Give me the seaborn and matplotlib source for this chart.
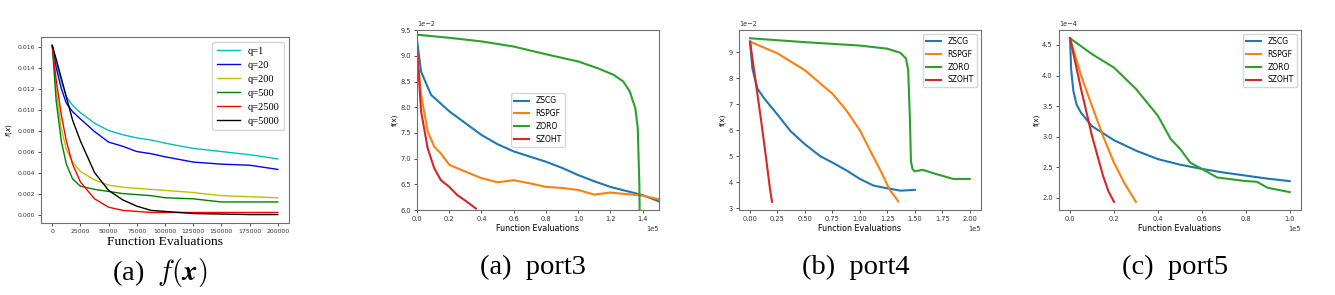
import matplotlib
matplotlib.use("Agg")
import matplotlib.pyplot as plt
import seaborn as sns
import numpy as np

plt.rcParams['axes.unicode_minus'] = True

###--- data : panel (a) f(x), different q
fe = [0, 3500, 8000, 12500, 18000, 25000, 37500, 50000, 62500, 75000,
      87500, 100000, 125000, 150000, 175000, 200000]
q_labels = ["q=1", "q=20", "q=200", "q=500", "q=2500", "q=5000"]
q_colors = ["c", "b", "y", "g", "r", "k"]
q1 = [0.0161, 0.0145, 0.0127, 0.0112, 0.0104, 0.0097, 0.0087, 0.0080, 0.0076, 0.0073,
      0.0071, 0.0068, 0.0063, 0.0060, 0.0057, 0.0053]
q20 = [0.0161, 0.0140, 0.0120, 0.0106, 0.0098, 0.0091, 0.0079, 0.0069, 0.0065, 0.0060,
       0.0058, 0.0055, 0.0050, 0.0048, 0.0047, 0.0043]
q200 = [0.0161, 0.0118, 0.0082, 0.0062, 0.0050, 0.0041, 0.0033, 0.0028, 0.0026, 0.0025,
        0.0024, 0.0023, 0.0021, 0.0018, 0.0017, 0.0016]
q500 = [0.0161, 0.0108, 0.0070, 0.0048, 0.0034, 0.0027, 0.0024, 0.0022, 0.0020, 0.0019,
        0.0018, 0.0016, 0.0015, 0.0012, 0.0012, 0.0012]
q2500 = [0.0161, 0.0128, 0.0095, 0.0070, 0.0048, 0.0031, 0.0015, 0.0007, 0.0004, 0.0003,
         0.0002, 0.0002, 0.0002, 0.0002, 0.0002, 0.0002]
q5000 = [0.0161, 0.0148, 0.0130, 0.0112, 0.0090, 0.0070, 0.0040, 0.0023, 0.0014, 0.0008,
         0.0004, 0.0003, 0.0001, 0.00005, 0.0, 0.0]

###--- data : port3 / port4 / port5  (x in 1e5, f in 1e-2 / 1e-4)
methods = ["ZSCG", "RSPGF", "ZORO", "SZOHT"]
m_colors = ["#1f77b4", "#ff7f0e", "#2ca02c", "#d62728"]

p3_zscg_x = [0, 0.025, 0.087, 0.2, 0.3, 0.4, 0.5, 0.6, 0.7, 0.8, 0.9, 1.0, 1.1, 1.2, 1.3, 1.4, 1.5]
p3_zscg_y = [9.30, 8.69, 8.24, 7.92, 7.69, 7.46, 7.28, 7.14, 7.04, 6.94, 6.82, 6.68, 6.56, 6.45, 6.37, 6.29, 6.17]
p3_rspgf_x = [0, 0.025, 0.066, 0.107, 0.148, 0.2, 0.29, 0.4, 0.5, 0.6, 0.7, 0.8, 0.9, 1.0, 1.1, 1.2, 1.3, 1.4, 1.5]
p3_rspgf_y = [9.10, 8.24, 7.53, 7.23, 7.10, 6.88, 6.76, 6.62, 6.54, 6.58, 6.52, 6.45, 6.43, 6.39, 6.30, 6.34, 6.31, 6.28, 6.21]
p3_zoro_x = [0, 0.2, 0.4, 0.6, 0.8, 1.0, 1.12, 1.22, 1.28, 1.32, 1.355, 1.37, 1.38, 1.385]
p3_zoro_y = [9.41, 9.35, 9.28, 9.18, 9.03, 8.89, 8.76, 8.63, 8.50, 8.31, 7.98, 7.60, 6.50, 5.00]
p3_szoht_x = [0, 0.025, 0.066, 0.107, 0.148, 0.2, 0.25, 0.31, 0.365]
p3_szoht_y = [9.15, 7.92, 7.20, 6.81, 6.58, 6.45, 6.29, 6.16, 6.03]

p4_zscg_x = [0, 0.021, 0.067, 0.127, 0.25, 0.37, 0.5, 0.64, 0.75, 0.885, 1.0, 1.127, 1.25, 1.37, 1.5]
p4_zscg_y = [9.40, 8.37, 7.60, 7.23, 6.60, 5.96, 5.46, 5.00, 4.76, 4.44, 4.13, 3.87, 3.77, 3.68, 3.71]
p4_rspgf_x = [0, 0.25, 0.5, 0.75, 0.87, 1.0, 1.12, 1.2, 1.27, 1.35]
p4_rspgf_y = [9.40, 8.95, 8.30, 7.40, 6.80, 6.00, 5.00, 4.35, 3.72, 3.27]
p4_zoro_x = [0, 0.5, 1.0, 1.25, 1.37, 1.42, 1.44, 1.455, 1.465, 1.48, 1.5, 1.57, 1.7, 1.85, 2.0]
p4_zoro_y = [9.53, 9.38, 9.25, 9.13, 8.97, 8.75, 8.30, 6.50, 4.80, 4.50, 4.42, 4.48, 4.31, 4.13, 4.13]
p4_szoht_x = [0, 0.05, 0.1, 0.15, 0.18, 0.2]
p4_szoht_y = [9.40, 7.90, 6.40, 4.80, 3.80, 3.25]

p5_zscg_x = [0, 0.005, 0.015, 0.03, 0.05, 0.1, 0.2, 0.3, 0.4, 0.5, 0.6, 0.7, 0.8, 0.9, 1.0]
p5_zscg_y = [4.61, 4.10, 3.75, 3.52, 3.39, 3.17, 2.94, 2.77, 2.63, 2.54, 2.47, 2.41, 2.36, 2.31, 2.27]
p5_rspgf_x = [0, 0.05, 0.1, 0.15, 0.2, 0.25, 0.3]
p5_rspgf_y = [4.61, 4.00, 3.50, 3.01, 2.57, 2.22, 1.93]
p5_zoro_x = [0, 0.1, 0.2, 0.3, 0.4, 0.458, 0.503, 0.548, 0.6, 0.67, 0.8, 0.85, 0.9, 1.0]
p5_zoro_y = [4.61, 4.35, 4.13, 3.78, 3.34, 2.96, 2.79, 2.57, 2.47, 2.33, 2.27, 2.26, 2.16, 2.09]
p5_szoht_x = [0, 0.05, 0.1, 0.15, 0.175, 0.2]
p5_szoht_y = [4.61, 3.78, 3.01, 2.36, 2.10, 1.93]

###--- figure
fig = plt.figure(figsize=(13.35, 2.95), dpi=100)
frame = "#707070"
tick_fs = 4.8


def style_axes(ax, fs):
    for s in ax.spines.values():
        s.set_color(frame)
        s.set_linewidth(0.8)
    ax.tick_params(labelsize=fs, length=2.5, width=0.6, pad=2, colors="#333333")


# (a) f(x)
ax1 = fig.add_axes([0.0307, 0.244, 0.1858, 0.6305])
for vals, lab, col in zip([q1, q20, q200, q500, q2500, q5000], q_labels, q_colors):
    sns.lineplot(x=fe, y=vals, ax=ax1, color=col, label=lab, linewidth=1.0)
ax1.set_xticks([0, 25000, 50000, 75000, 100000, 125000, 150000, 175000, 200000])
style_axes(ax1, 4.4)
ax1.set_xlabel("Function Evaluations", family="Liberation Serif", fontsize=9.7, labelpad=1)
ax1.set_ylabel("$f(x)$", fontsize=5, labelpad=2)
ax1.legend(loc="upper right", prop={"family": "Liberation Serif", "size": 7.5},
           handlelength=2.2, borderpad=0.4, labelspacing=0.45)

# port3 / port4 / port5
panels = [
    ([p3_zscg_x, p3_rspgf_x, p3_zoro_x, p3_szoht_x],
     [p3_zscg_y, p3_rspgf_y, p3_zoro_y, p3_szoht_y], 1e-2, 0.3124, "center"),
    ([p4_zscg_x, p4_rspgf_x, p4_zoro_x, p4_szoht_x],
     [p4_zscg_y, p4_rspgf_y, p4_zoro_y, p4_szoht_y], 1e-2, 0.5536, "upper right"),
    ([p5_zscg_x, p5_rspgf_x, p5_zoro_x, p5_szoht_x],
     [p5_zscg_y, p5_rspgf_y, p5_zoro_y, p5_szoht_y], 1e-4, 0.7933, "upper right"),
]
axes = []
for xs, ys, scale, left, loc in panels:
    ax = fig.add_axes([left, 0.288, 0.181, 0.610])
    for x, y, lab, col in zip(xs, ys, methods, m_colors):
        sns.lineplot(x=np.array(x) * 1e5, y=np.array(y) * scale, ax=ax,
                     color=col, label=lab, linewidth=1.5)
    ax.ticklabel_format(axis="both", style="sci", scilimits=(0, 0))
    style_axes(ax, tick_fs)
    ax.xaxis.get_offset_text().set_fontsize(tick_fs)
    ax.yaxis.get_offset_text().set_fontsize(tick_fs)
    ax.set_xlabel("Function Evaluations", fontsize=5.8, labelpad=1)
    ax.set_ylabel("f(x)", fontsize=5.2, labelpad=2)
    ax.legend(loc=loc, fontsize=5.5, handlelength=2.0)
    axes.append(ax)

axes[0].set_xlim(0, 1.5e5)
axes[0].set_ylim(0.06, 0.095)

###--- captions
fig.text(0.1199, 0.075, r"(a)  $f(\boldsymbol{x})$", ha="center", va="center",
         family="Liberation Serif", fontsize=20.5, math_fontfamily="cm")
for cx, cap in zip([533, 856, 1175], ["(a)  port3", "(b)  port4", "(c)  port5"]):
    fig.text(cx / 1335, 0.092, cap, ha="center", va="center",
             family="Liberation Serif", fontsize=20.5)

fig.savefig("out.png", dpi=100)
